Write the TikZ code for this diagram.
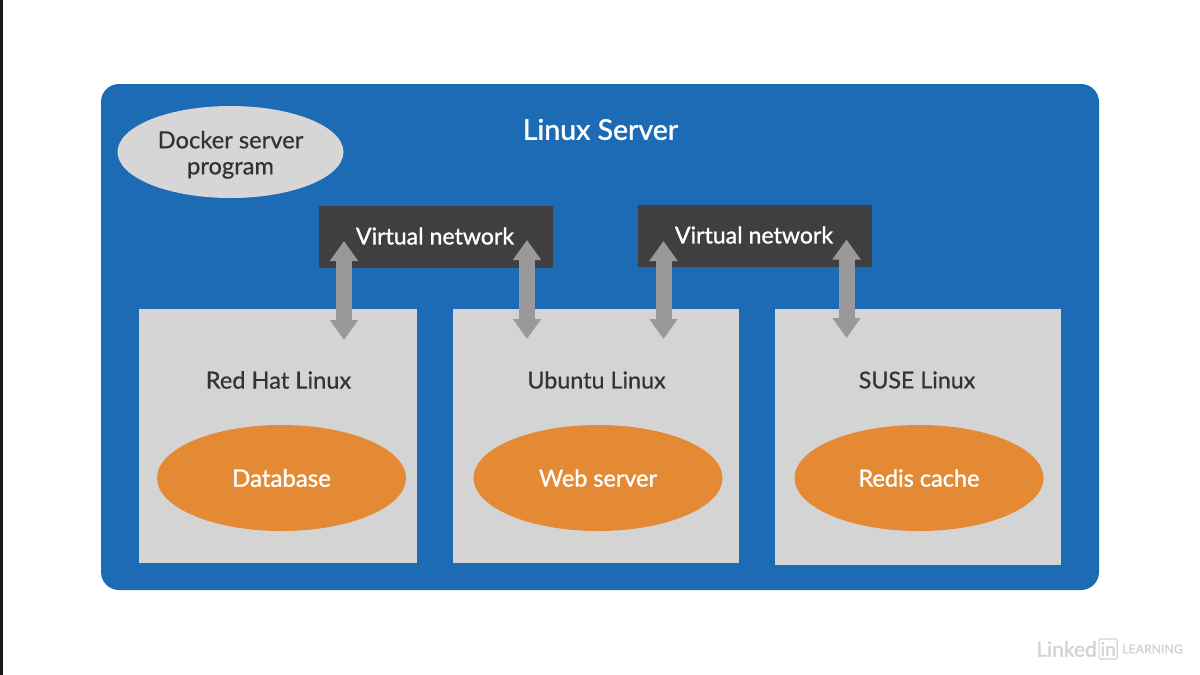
\documentclass[tikz,border=0pt]{standalone}
\usepackage{fontspec}
\setmainfont{Lato}
\usetikzlibrary{arrows.meta,shapes.geometric}
\definecolor{srvblue}{HTML}{1C6BB4}
\definecolor{boxgray}{HTML}{D4D4D4}
\definecolor{darknet}{HTML}{3F3F42}
\definecolor{orangeb}{HTML}{E58A34}
\definecolor{ovalgray}{HTML}{D6D6D6}
\definecolor{arrowgray}{HTML}{999999}
\definecolor{txtdark}{HTML}{333333}
\definecolor{logogray}{HTML}{D2D2D2}
\tikzset{
  x=1pt,y=-1pt,
  server/.style={fill=srvblue,draw=none,rounded corners=18pt},
  osbox/.style={fill=boxgray,draw=none,anchor=north west,inner sep=0pt},
  netbox/.style={fill=darknet,draw=none,anchor=north west,inner sep=0pt},
  whitetext/.style={text=white,inner sep=0pt,font=\fontsize{#1}{27}\selectfont\addfontfeature{FakeBold=1.2}},
  app/.style={ellipse,fill=orangeb,draw=none,inner sep=0pt,minimum width=249pt,minimum height=106pt,text=white,font=\fontsize{#1}{27}\selectfont\addfontfeature{FakeBold=1.2}},
  oslabel/.style={text=txtdark,font=\fontsize{#1}{27}\selectfont\addfontfeature{FakeBold=0.6},inner sep=0pt},
  link/.style={draw=arrowgray,line width=16pt,{Triangle[length=20pt,width=27pt]}-{Triangle[length=20pt,width=27pt]}},
}
\begin{document}
\begin{tikzpicture}
\useasboundingbox (0,0) rectangle (1200,675);
\fill[white] (0,0) rectangle (1200,675);
\fill[black!90] (0,0) rectangle (2.5,675);
\path[server] (101,84) rectangle (1099,590);
\node[whitetext=28.5] (title) at (600.5,129.5) {Linux Server};
\node[ellipse,fill=ovalgray,draw=none,inner sep=0pt,minimum width=226pt,minimum height=92pt,align=center,text=txtdark,font=\fontsize{23.7}{26}\selectfont\addfontfeature{FakeBold=0.6}] (docker) at (230.5,152) {\rule{0pt}{23pt}Docker server\\program};
\node[osbox,minimum width=278pt,minimum height=254pt] (rh) at (139,308.5) {};
\node[osbox,minimum width=286pt,minimum height=254pt] (ub) at (453,308.5) {};
\node[osbox,minimum width=286pt,minimum height=256pt] (su) at (775,308.5) {};
\node[netbox,minimum width=234pt,minimum height=62pt] (n1) at (319,206) {};
\node[netbox,minimum width=234pt,minimum height=62pt] (n2) at (638,205) {};
\node[whitetext=23.1] (n1t) at (435,236) {Virtual network};
\node[whitetext=23.1] (n2t) at (754,235) {Virtual network};
\node[oslabel=23.6] (rht) at (278.5,380) {Red Hat Linux};
\node[oslabel=23.3] (ubt) at (596.5,380) {Ubuntu Linux};
\node[oslabel=23.2] (sut) at (917,380) {SUSE Linux};
\node[app=24] (db) at (281.5,478) {Database};
\node[app=23.4] (web) at (598,478) {Web server};
\node[app=23.5] (red) at (919,478) {Redis cache};
\coordinate (a1t) at (344,241); \coordinate (a1b) at (344,340);
\coordinate (a2t) at (527,240); \coordinate (a2b) at (527,339);
\coordinate (a3t) at (663.5,241); \coordinate (a3b) at (663.5,339);
\coordinate (a4t) at (846.5,239.5); \coordinate (a4b) at (846.5,338);
\draw[link] (a1t) -- (a1b);
\draw[link] (a2t) -- (a2b);
\draw[link] (a3t) -- (a3b);
\draw[link] (a4t) -- (a4b);
\node[text=logogray,font=\fontsize{21}{24}\selectfont\addfontfeature{FakeBold=1},anchor=east,inner sep=0pt] (li) at (1097,649) {Linked};
\node[text=logogray,font=\fontsize{19}{24}\selectfont\addfontfeature{FakeBold=1},draw=logogray,line width=1.2pt,rounded corners=2pt,inner sep=1.5pt,minimum height=20pt,anchor=west] (in) at (1098.5,649) {in};
\node[text=logogray,font=\fontsize{12.3}{14}\selectfont\addfontfeature{FakeBold=1},anchor=west,inner sep=0pt] (lrn) at (1122,649) {LEARNING};
\end{tikzpicture}
\end{document}
